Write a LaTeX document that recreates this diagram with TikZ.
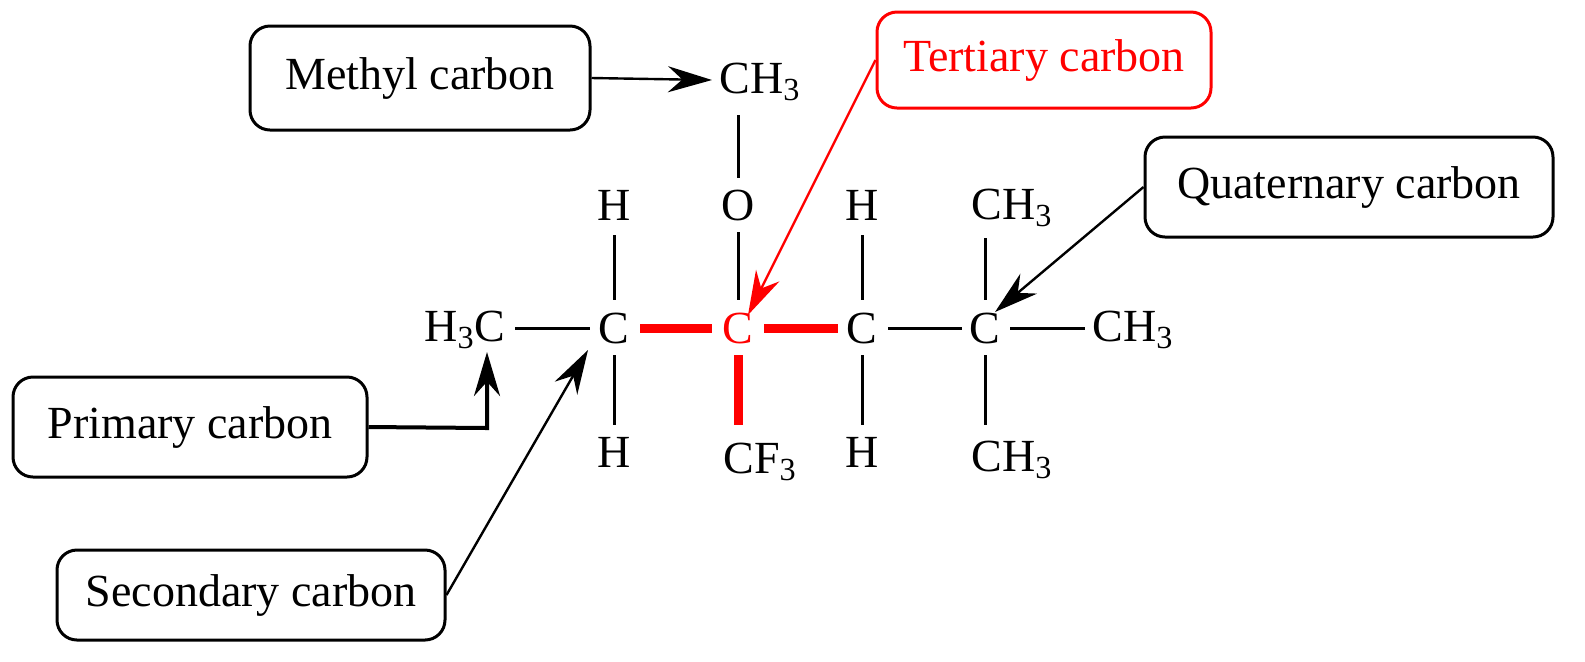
\documentclass[tikz,border=0pt]{standalone}
\usepackage{fontspec}
\setmainfont{Liberation Serif}
\usetikzlibrary{arrows.meta}
\begin{document}
\begin{tikzpicture}[x=0.5pt,y=-0.5pt,
  lab/.style={draw,rounded corners=10pt,line width=1.5pt,inner sep=0pt,font=\fontsize{23}{26}\selectfont},
  atm/.style={inner sep=0pt,font=\fontsize{23}{26}\selectfont},
  bd/.style={line width=1.5pt},
  rb/.style={line width=4.5pt,red},
  ar/.style={line width=1.2pt,-{Stealth[length=22pt,width=13pt]}}]
\useasboundingbox (0,0) rectangle (1585,661);
% boxes
\node[lab,minimum width=170pt,minimum height=52pt] (me) at (420,78) {Methyl carbon};
\node[lab,draw=red,text=red,minimum width=167pt,minimum height=48pt] (te) at (1044,60) {Tertiary carbon};
\node[lab,minimum width=204pt,minimum height=50pt] (qu) at (1349,187) {Quaternary carbon};
\node[lab,minimum width=177pt,minimum height=50pt] (pr) at (190,427) {Primary carbon};
\node[lab,minimum width=194pt,minimum height=45pt] (se) at (251,595) {Secondary carbon};
% atoms
\node[atm] (h3c) at (465,330) {H\textsubscript{3}C};
\node[atm] (c1) at (614,328) {C};
\node[atm,text=red] (c2) at (738,328) {C};
\node[atm] (c3) at (862,328) {C};
\node[atm] (c4) at (985,328) {C};
\node[atm] (ch3r) at (1133,330) {CH\textsubscript{3}};
\node[atm] (h1t) at (614,205) {H};
\node[atm] (h1b) at (614,452) {H};
\node[atm] (o) at (738,205) {O};
\node[atm] (ch3t) at (760,82) {CH\textsubscript{3}};
\node[atm] (cf3) at (760,462) {CF\textsubscript{3}};
\node[atm] (h3t) at (862,205) {H};
\node[atm] (h3b) at (862,452) {H};
\node[atm] (ch3u) at (1012,208) {CH\textsubscript{3}};
\node[atm] (ch3d) at (1012,460) {CH\textsubscript{3}};
% bonds
\draw[bd] (515,328) -- (590,328);
\draw[rb] (640,328) -- (712,328);
\draw[rb] (764,328) -- (838,328);
\draw[bd] (888,328) -- (962,328);
\draw[bd] (1010,328) -- (1085,328);
\draw[bd] (614,235) -- (614,300);
\draw[bd] (614,355) -- (614,425);
\draw[bd] (738,232) -- (738,300);
\draw[rb] (738,355) -- (738,425);
\draw[bd] (738,115) -- (738,178);
\draw[bd] (862,235) -- (862,300);
\draw[bd] (862,355) -- (862,425);
\draw[bd] (985,238) -- (985,300);
\draw[bd] (985,355) -- (985,425);
% arrows
\draw[ar] (me.east) -- (712,80);
\draw[ar,red] (te.west) -- (748,315);
\draw[ar] (qu.west) -- (995,312);
\draw[ar,line width=2pt] (pr.east) -- (487,428) -- (487,352);
\draw[ar] (se.east) -- (588,350);
\end{tikzpicture}
\end{document}
